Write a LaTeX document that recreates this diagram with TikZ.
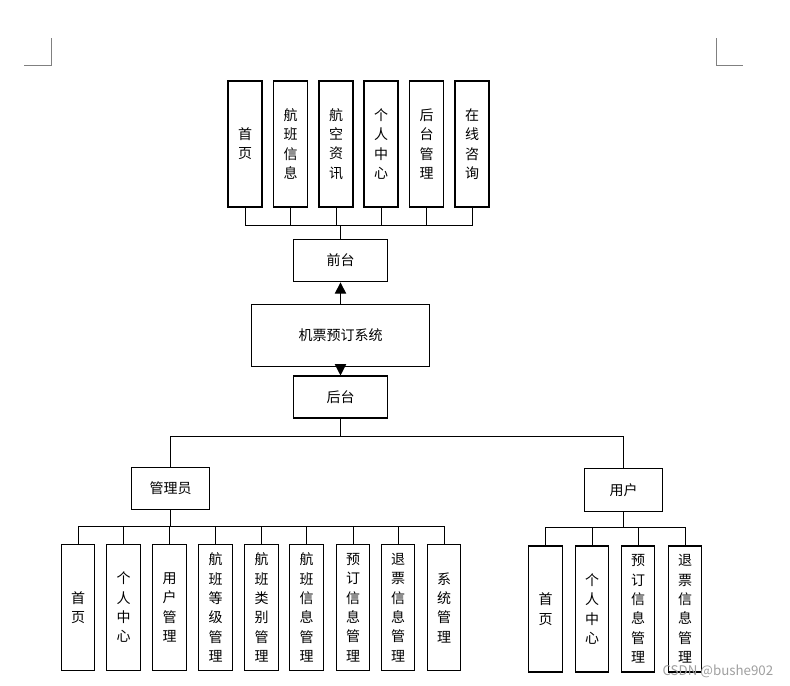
\documentclass[tikz,border=0pt]{standalone}
\usepackage{fontspec}
\setmainfont{Noto Sans CJK SC}
\usetikzlibrary{arrows.meta}
\begin{document}
\begin{tikzpicture}[x=0.75pt,y=-0.75pt,
  bx/.style={draw,line width=0.8pt,inner sep=0pt,font=\fontsize{10.5}{13}\selectfont},
  ln/.style={line width=0.7pt},
  ar/.style={ln,-{Triangle[length=8.5pt,width=8.5pt]}},
  vt/.style={bx,align=center,font=\fontsize{10.5}{14.5}\selectfont}]
\useasboundingbox (0,0) rectangle (790,686);
\draw[line width=0.5pt,gray] (51,38)--(51,65)--(24,65) (716,38)--(716,65)--(743,65);
\foreach \n/\x/\t in {t1/245/首\\页, t2/290.5/航\\班\\信\\息, t3/336/航\\空\\资\\讯, t4/381/个\\人\\中\\心, t5/426.5/后\\台\\管\\理, t6/472/在\\线\\咨\\询}
  \node[vt,minimum width=25.5pt,minimum height=94.5pt] (\n) at (\x,144) {\t};
\node[bx,minimum width=71pt,minimum height=32pt] (qt) at (340.5,260.5) {前台};
\node[bx,minimum width=133pt,minimum height=46pt] (sys) at (340.5,335.5) {机票预订系统};
\node[bx,minimum width=71pt,minimum height=31.5pt] (ht) at (340.5,397) {后台};
\coordinate (tb) at (340.5,225);
\draw[ln] (t1.south)--(t1.south|-tb)--(t6.south|-tb)--(t6.south);
\foreach \n in {t2,t3,t4,t5} \draw[ln] (\n.south)--(\n.south|-tb);
\draw[ln] (tb)--(qt.north);
\draw[ar] (sys.north)--(qt.south);
\draw[ar] (sys.south)--(ht.north);
\node[bx,minimum width=59pt,minimum height=32pt] (gly) at (170.5,488.5) {管理员};
\node[bx,minimum width=59pt,minimum height=32pt] (yh) at (623.5,490) {用户};
\coordinate (hb) at (340.5,436);
\draw[ln] (ht.south)--(hb);
\draw[ln] (gly.north)--(gly.north|-hb)--(yh.north|-hb)--(yh.north);
\foreach \n/\x/\t in {a1/78/首\\页, a2/123.5/个\\人\\中\\心, a3/169.5/用\\户\\管\\理, a4/215.5/航\\班\\等\\级\\管\\理, a5/261.5/航\\班\\类\\别\\管\\理, a6/306.5/航\\班\\信\\息\\管\\理, a7/353/预\\订\\信\\息\\管\\理, a8/398/退\\票\\信\\息\\管\\理, a9/444/系\\统\\管\\理}
  \node[vt,minimum width=25pt,minimum height=94pt] (\n) at (\x,607.5) {\t};
\coordinate (ab) at (170.5,526);
\draw[ln] (gly.south)--(ab);
\draw[ln] (a1.north)--(a1.north|-ab)--(a9.north|-ab)--(a9.north);
\foreach \n in {a2,a3,a4,a5,a6,a7,a8} \draw[ln] (\n.north)--(\n.north|-ab);
\foreach \n/\x/\t in {u1/545.5/首\\页, u2/592/个\\人\\中\\心, u3/638/预\\订\\信\\息\\管\\理, u4/685/退\\票\\信\\息\\管\\理}
  \node[vt,minimum width=25pt,minimum height=94.5pt] (\n) at (\x,609) {\t};
\coordinate (ub) at (623.5,527);
\draw[ln] (yh.south)--(ub);
\draw[ln] (u1.north)--(u1.north|-ub)--(u4.north|-ub)--(u4.north);
\foreach \n in {u2,u3} \draw[ln] (\n.north)--(\n.north|-ub);
\node[text=gray!75,font=\fontsize{10}{11}\selectfont,anchor=east] (wm) at (778,671) {CSDN @bushe902};
\end{tikzpicture}
\end{document}
